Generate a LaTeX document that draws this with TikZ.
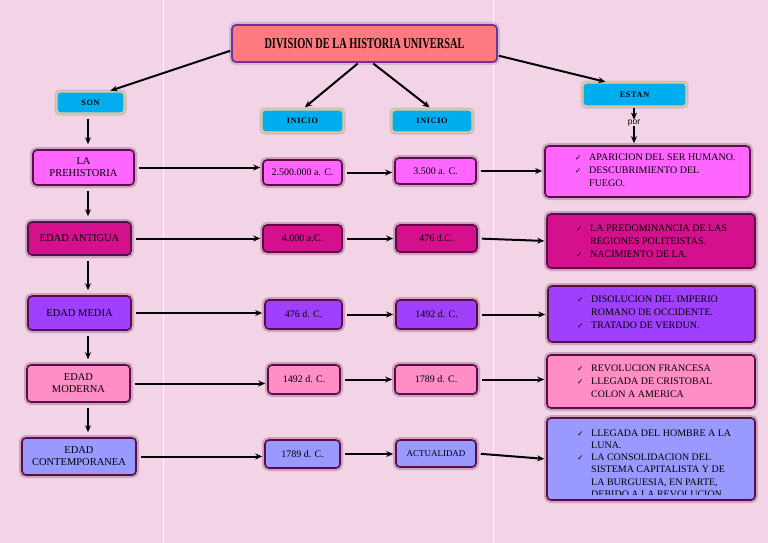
\documentclass[tikz,border=0pt]{standalone}
\usepackage{fontspec}
\usepackage{graphicx}
\setmainfont{Liberation Serif}
\newfontfamily\dejavu{DejaVu Sans}
\newfontfamily\lsans{Liberation Sans}
\newfontfamily\lblfont[LetterSpace=8]{Liberation Serif}
\usetikzlibrary{arrows.meta,calc}
\definecolor{bgc}{HTML}{F2D4E6}
\definecolor{bord}{HTML}{5C0A48}
\definecolor{cA}{HTML}{FF66FF}
\definecolor{cB}{HTML}{D4108C}
\definecolor{cC}{HTML}{A040FF}
\definecolor{cD}{HTML}{FF8EC6}
\definecolor{cE}{HTML}{9999FF}
\definecolor{cyanb}{HTML}{00AEEF}
\definecolor{yellb}{HTML}{E6D08A}
\definecolor{titlef}{HTML}{FF7A80}
\definecolor{titleb}{HTML}{7030A0}
\newcommand{\chk}{\makebox[14pt][l]{\dejavu\fontsize{7.5}{7.5}\selectfont ✓}}
\newcommand{\ind}{\hspace*{14pt}}
\begin{document}
\begin{tikzpicture}[x=1pt,y=-1pt,
  box/.style={draw=bord, line width=1.6pt, rounded corners=4pt,
    preaction={draw=bord!60!gray, line width=6pt, opacity=0.3},
    inner sep=1pt, align=center, font=\fontsize{10}{11.5}\selectfont},
  lbox/.style={box, font=\fontsize{10.5}{12}\selectfont},
  lbl/.style={draw=yellb, fill=cyanb, line width=1.4pt, rounded corners=3pt,
    preaction={draw=gray, line width=5pt, opacity=0.3},
    inner sep=1pt, font=\lblfont\bfseries\fontsize{8.2}{9}\selectfont},
  btxt/.style={anchor=north west, inner sep=0pt, align=left,
    font=\fontsize{10}{13}\selectfont},
  arr/.style={-{Stealth[length=7pt,width=6pt]}, line width=2pt, black,
    shorten <=4pt, shorten >=2pt},
  varr/.style={arr, shorten <=5pt, shorten >=5pt}
]
% background
\fill[bgc] (0,0) rectangle (768,543);
\useasboundingbox (0,0) rectangle (768,543);
\draw[white, line width=1pt, opacity=0.8] (163,0) -- (163,543);
\draw[white, line width=1pt, opacity=0.8] (493,0) -- (493,543);

% title
\node[draw=titleb, fill=titlef, line width=1.8pt, rounded corners=4pt,
  preaction={draw=gray, line width=6pt, opacity=0.3},
  minimum width=265, minimum height=37, inner sep=1pt] (title) at (364.5,43.5)
  {\scalebox{0.69}[1]{\fontsize{15}{18}\selectfont\bfseries DIVISION DE LA HISTORIA UNIVERSAL}};

% labels
\node[lbl, minimum width=67, minimum height=21] (son) at (90.5,102.5) {SON};
\node[lbl, minimum width=81, minimum height=22] (ini1) at (302.5,121) {INICIO};
\node[lbl, minimum width=80, minimum height=22] (ini2) at (432,121) {INICIO};
\node[lbl, minimum width=103, minimum height=23] (estan) at (634.5,94.5) {ESTAN};
\node[inner sep=0pt, font=\lsans\fontsize{8.5}{9}\selectfont] (por) at (634,123) {por};

% left column
\node[lbox, fill=cA, minimum width=101, minimum height=35] (pre) at (83.5,167.5) {LA\\PREHISTORIA};
\node[lbox, fill=cB, minimum width=103, minimum height=33] (ant) at (79.5,238.5) {EDAD ANTIGUA};
\node[lbox, fill=cC, minimum width=103, minimum height=34] (med) at (79.5,313) {EDAD MEDIA};
\node[lbox, fill=cD, minimum width=103, minimum height=37] (mod) at (78.5,383.5) {EDAD\\MODERNA};
\node[lbox, fill=cE, minimum width=114, minimum height=37] (con) at (79,456.5) {EDAD\\CONTEMPORANEA};

% dates
\node[box, fill=cA, minimum width=79, minimum height=25] (d1a) at (302.5,172.5) {2.500.000 a. C.};
\node[box, fill=cA, minimum width=81, minimum height=26] (d1b) at (435.5,171) {3.500 a. C.};
\node[box, fill=cB, minimum width=79, minimum height=27] (d2a) at (302.5,238.5) {4.000 a.C.};
\node[box, fill=cB, minimum width=81, minimum height=27] (d2b) at (436.5,238.5) {476 d.C.};
\node[box, fill=cC, minimum width=77, minimum height=29] (d3a) at (303.5,314.5) {476 d. C.};
\node[box, fill=cC, minimum width=81, minimum height=29] (d3b) at (436.5,314.5) {1492 d. C.};
\node[box, fill=cD, minimum width=72, minimum height=29] (d4a) at (304,379.5) {1492 d. C.};
\node[box, fill=cD, minimum width=82, minimum height=29] (d4b) at (436,379.5) {1789 d. C.};
\node[box, fill=cE, minimum width=75, minimum height=28] (d5a) at (302.5,454) {1789 d. C.};
\node[box, fill=cE, minimum width=80, minimum height=27] (d5b) at (436,453.5) {\fontsize{9}{10}\selectfont ACTUALIDAD};

% right boxes
\node[box, fill=cA, minimum width=205, minimum height=51] (r1) at (647.5,171.5) {};
\node[box, fill=cB, minimum width=208, minimum height=54] (r2) at (651,241) {};
\node[box, fill=cC, minimum width=207, minimum height=56] (r3) at (651.5,314) {};
\node[box, fill=cD, minimum width=208, minimum height=53] (r4) at (651,381.5) {};
\node[box, fill=cE, minimum width=208, minimum height=82] (r5) at (651,459) {};

\node[btxt] (t1) at (575,151.5) {\strut\chk APARICION DEL SER HUMANO.\\\chk DESCUBRIMIENTO DEL\\\ind FUEGO.};
\node[btxt] (t2) at (576,222.5) {\strut\chk LA PREDOMINANCIA DE LAS\\\ind REGIONES POLITEISTAS.\\\chk NACIMIENTO DE LA.};
\node[btxt] (t3) at (577,293.5) {\strut\chk DISOLUCION DEL IMPERIO\\\ind ROMANO DE OCCIDENTE.\\\chk TRATADO DE VERDUN.};
\node[btxt] (t4) at (577,362.5) {\strut\chk REVOLUCION FRANCESA\\\chk LLEGADA DE CRISTOBAL\\\ind COLON A AMERICA};
\begin{scope}
\clip (r5.north west) rectangle ($(r5.south east)+(0,-6)$);
\node[btxt, font=\fontsize{10}{12.2}\selectfont] (t5) at (577,427.5) {\strut\chk LLEGADA DEL HOMBRE A LA\\\ind LUNA.\\\chk LA CONSOLIDACION DEL\\\ind SISTEMA CAPITALISTA Y DE\\\ind LA BURGUESIA, EN PARTE,\\\ind DEBIDO A LA REVOLUCION};
\end{scope}

% connectors from title
\draw[arr, shorten <=1pt] ($(title.west)+(0,7)$) -- ($(son.north)+(18,0)$);
\draw[arr, shorten <=1pt, shorten >=3pt] ($(title.south)+(-6,0)$) -- (ini1.north);
\draw[arr, shorten <=1pt, shorten >=3pt] ($(title.south)+(8,0)$) -- (ini2.north);
\draw[arr, shorten <=1pt] ($(title.east)+(0,12)$) -- ($(estan.north west)+(25,0)$);

% estan -> por -> r1
\draw[arr, shorten <=1pt, shorten >=0pt] (estan.south -| por) -- (por.north);
\draw[arr, shorten <=0pt, shorten >=2pt] (por.south) -- (por.south |- r1.north);

% vertical left arrows
\coordinate (vx) at (88,0);
\draw[varr] (son.south -| vx) -- (pre.north -| vx);
\draw[varr] (pre.south -| vx) -- (ant.north -| vx);
\draw[varr] (ant.south -| vx) -- (med.north -| vx);
\draw[varr] (med.south -| vx) -- (mod.north -| vx);
\draw[varr] (mod.south -| vx) -- (con.north -| vx);

% horizontal arrows
\draw[arr] (pre.east) -- (pre.east -| d1a.west);
\draw[arr] (d1a.east) -- (d1a.east -| d1b.west);
\draw[arr] (d1b.east) -- (d1b.east -| r1.west);
\draw[arr] (ant.east) -- (ant.east -| d2a.west);
\draw[arr] (d2a.east) -- (d2a.east -| d2b.west);
\draw[arr] (d2b.east) -- (r2.west);
\draw[arr] (med.east) -- (med.east -| d3a.west);
\draw[arr] (d3a.east) -- (d3a.east -| d3b.west);
\draw[arr] (d3b.east) -- (d3b.east -| r3.west);
\draw[arr] (mod.east) -- (mod.east -| d4a.west);
\draw[arr] (d4a.east) -- (d4a.east -| d4b.west);
\draw[arr] (d4b.east) -- (d4b.east -| r4.west);
\draw[arr] (con.east) -- (con.east -| d5a.west);
\draw[arr] (d5a.east) -- (d5a.east -| d5b.west);
\draw[arr] (d5b.east) -- (r5.west);
\end{tikzpicture}
\end{document}
